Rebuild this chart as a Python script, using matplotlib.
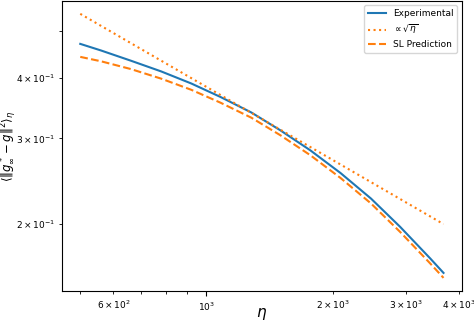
import numpy as np
import matplotlib
matplotlib.use("Agg")
import matplotlib.pyplot as plt

# values
eta = [500, 560, 660, 780, 920, 1080, 1280, 1500, 1770, 2090, 2470, 2900, 3420, 3680]
experimental = [0.470, 0.4556, 0.434, 0.4124, 0.3895, 0.3654, 0.3394, 0.312,
                0.2836, 0.2546, 0.2256, 0.1972, 0.1698, 0.1585]
sl_prediction = [0.4419, 0.4328, 0.4171, 0.3985, 0.378, 0.3556, 0.3311, 0.3048,
                 0.2771, 0.2487, 0.2204, 0.1925, 0.1658, 0.1548]

# reference line (straight on log-log): end points
eta_ref = [500, 3680]
sqrt_ref = [0.542, 0.1998]

fig = plt.figure(figsize=(4.74, 3.22), dpi=100)
ax = fig.add_axes([0.131, 0.096, 0.843, 0.902])

ax.plot(eta, experimental, color="C0", lw=1.5, label="Experimental")
ax.plot(eta_ref, sqrt_ref, color="C1", lw=1.5, ls=":", label=r"$\propto\sqrt{\eta}$")
ax.plot(eta, sl_prediction, color="C1", lw=1.5, ls="--", label="SL Prediction")

ax.set_xscale("log")
ax.set_yscale("log")
ax.tick_params(labelsize=6.5, which="both")
ax.set_xlabel(r"$\eta$", fontsize=11)
ax.set_ylabel(r"$\langle \| g^*_\infty - g \|^2 \rangle_\eta$", fontsize=8.5)
ax.xaxis.set_label_coords(0.5, -0.05)
ax.yaxis.set_label_coords(-0.107, 0.5)
ax.legend(loc="upper right", fontsize=6.5)

fig.savefig("out.png", dpi=100)
